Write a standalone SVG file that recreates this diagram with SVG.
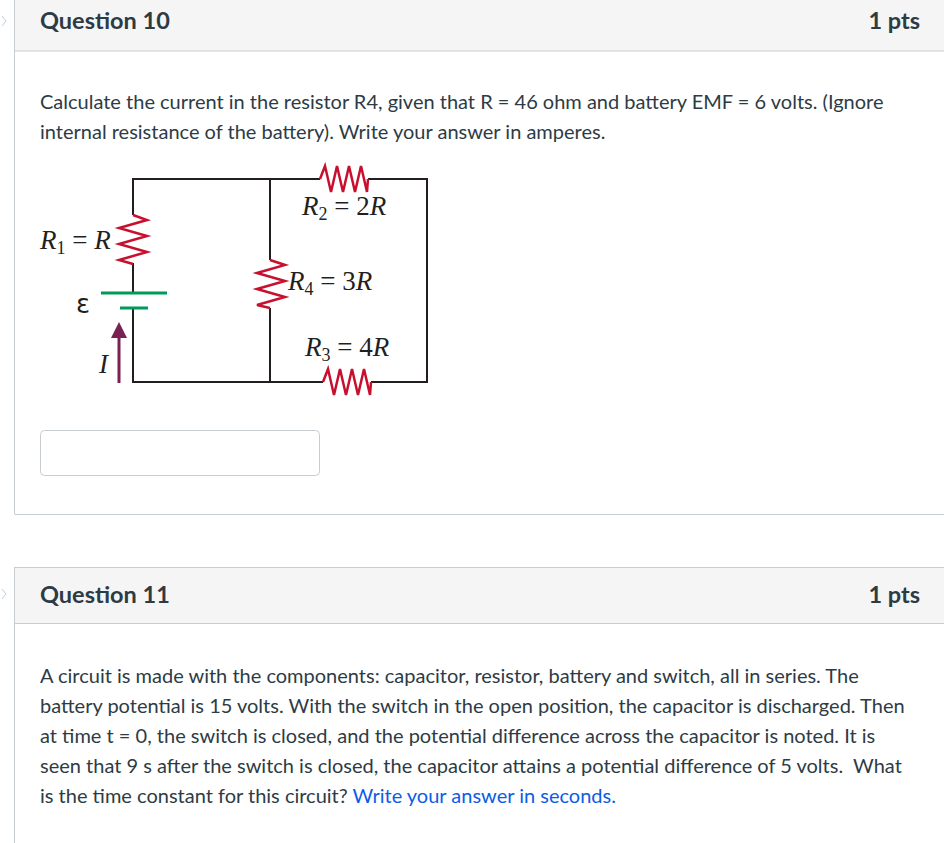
<svg xmlns="http://www.w3.org/2000/svg" width="944" height="843" viewBox="0 0 944 843">
<style>
.t{font-family:Lato,"Liberation Sans",sans-serif;fill:#2d3b45}
.h{font-size:23.5px;font-weight:bold}
.b{font-size:20px}
.w{fill:none;stroke:#231f20;stroke-width:2}
.r{fill:none;stroke:#c8102e;stroke-width:2.5;stroke-linejoin:miter}
.m{font-family:"Liberation Serif",serif;font-size:27px;fill:#231f20}
.s{font-size:18px}
</style>
<rect width="944" height="843" fill="#fff"/>
<g id="q10">
<rect x="14.5" y="-1" width="940" height="52" fill="#f5f5f5" stroke="#c7cdd1"/>
<line x1="14.5" y1="51" x2="14.5" y2="514" stroke="#c7cdd1"/>
<line x1="14.5" y1="514.5" x2="944" y2="514.5" stroke="#c7cdd1"/>
<path d="M2 16l4 5-4 5" fill="none" stroke="#c7cdd1"/>
<text class="t h" x="40" y="29">Question 10</text>
<text class="t h" x="920" y="29" text-anchor="end">1 pts</text>
<text class="t b" x="40" y="109">Calculate the current in the resistor R4, given that R = 46 ohm and battery EMF = 6 volts. (Ignore</text>
<text class="t b" x="40" y="139">internal resistance of the battery). Write your answer in amperes.</text>
<rect x="40.5" y="430.5" width="279" height="45" rx="4" fill="#fff" stroke="#c7cdd1"/>
</g>
<g id="circuit">
<path class="w" d="M133 215V179H320M368 179H427V382H371M323 382H133V308M133 293V263M270 179V260M270 308V382"/>
<path class="r" d="M320 179l5-13 6 26 6-26 6 26 6-26 6 26 6-26 6 26 1-13"/>
<path class="r" d="M323 382l5-13 6 26 6-26 6 26 6-26 6 26 6-26 6 26 1-13"/>
<path class="r" d="M133 215l14 5-28 8 28 8-28 8 28 8-28 8 14 4"/>
<path class="r" d="M270 260l15 5-28 8 28 8-28 8 28 8-28 8 13 3"/>
<line x1="101" y1="293" x2="167" y2="293" stroke="#009a5a" stroke-width="3"/>
<line x1="120" y1="308" x2="148" y2="308" stroke="#009a5a" stroke-width="3"/>
<line x1="119" y1="383" x2="119" y2="335" stroke="#7a2153" stroke-width="3"/>
<path d="M119 322l-8 16h16z" fill="#7a2153"/>
<text class="m" x="40" y="249"><tspan font-style="italic">R</tspan><tspan class="s" dy="5">1</tspan><tspan dy="-5"> = </tspan><tspan font-style="italic">R</tspan></text>
<text class="m" x="302" y="215"><tspan font-style="italic">R</tspan><tspan class="s" dy="5">2</tspan><tspan dy="-5"> = 2</tspan><tspan font-style="italic">R</tspan></text>
<text class="m" x="288" y="290"><tspan font-style="italic">R</tspan><tspan class="s" dy="5">4</tspan><tspan dy="-5"> = 3</tspan><tspan font-style="italic">R</tspan></text>
<text class="m" x="305" y="356"><tspan font-style="italic">R</tspan><tspan class="s" dy="5">3</tspan><tspan dy="-5"> = 4</tspan><tspan font-style="italic">R</tspan></text>
<text x="76" y="313" font-family="'DejaVu Sans',sans-serif" font-size="26" fill="#231f20">ε</text>
<text class="m" x="99" y="373" font-style="italic">I</text>
</g>
<g id="q11">
<rect x="14.5" y="567.5" width="940" height="56" fill="#f5f5f5" stroke="#c7cdd1"/>
<line x1="14.5" y1="624" x2="14.5" y2="843" stroke="#c7cdd1"/>
<path d="M2 589l4 5-4 5" fill="none" stroke="#c7cdd1"/>
<text class="t h" x="40" y="603">Question 11</text>
<text class="t h" x="920" y="603" text-anchor="end">1 pts</text>
<text class="t b" x="40" y="683">A circuit is made with the components: capacitor, resistor, battery and switch, all in series. The</text>
<text class="t b" x="40" y="713">battery potential is 15 volts. With the switch in the open position, the capacitor is discharged. Then</text>
<text class="t b" x="40" y="743">at time t = 0, the switch is closed, and the potential difference across the capacitor is noted. It is</text>
<text class="t b" x="40" y="773" xml:space="preserve">seen that 9 s after the switch is closed, the capacitor attains a potential difference of 5 volts.  What</text>
<text class="t b" x="40" y="803">is the time constant for this circuit? <tspan fill="#0b5ce6">Write your answer in seconds.</tspan></text>
</g>
</svg>
